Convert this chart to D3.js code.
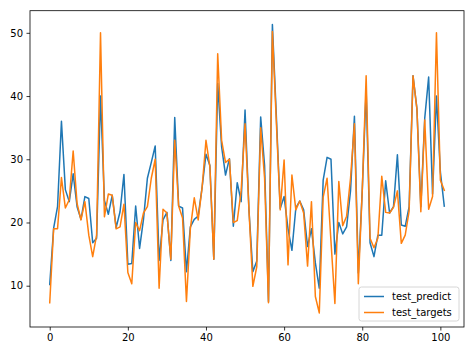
<!DOCTYPE html>
<html>
<head>
<meta charset="utf-8">
<script src="https://cdn.jsdelivr.net/npm/d3@7"></script>
<style>
  body { margin: 0; background: #fff; }
  svg { display: block; font-family: "DejaVu Sans", sans-serif; }
</style>
</head>
<body>
<svg id="chart" width="474" height="355"></svg>
<script>
const testPredict = [
  10.2, 19.1, 22.5, 36.0, 25.2, 23.3, 27.7, 22.5, 20.5, 24.1,
  23.8, 16.8, 17.5, 40.0, 23.5, 21.3, 24.3, 19.2, 21.7, 27.6,
  13.4, 13.5, 22.6, 15.9, 20.5, 27.0, 29.5, 32.1, 14.0, 20.4,
  21.6, 14.0, 36.6, 22.6, 22.3, 12.2, 19.3, 20.5, 21.0, 25.5,
  30.8, 29.0, 14.2, 42.0, 32.0, 27.5, 30.1, 19.4, 26.3, 23.3,
  37.8, 22.0, 12.2, 13.9, 36.7, 29.0, 7.5, 51.3, 37.0, 22.2,
  24.1, 19.0, 15.6, 22.3, 23.4, 22.0, 16.2, 19.0, 13.6, 9.6,
  26.7, 30.3, 30.0, 15.0, 20.0, 18.2, 19.3, 25.0, 36.8, 12.0,
  25.0, 41.0, 16.8, 14.6, 18.0, 18.0, 26.6, 21.5, 22.5, 30.7,
  19.6, 19.4, 22.5, 43.2, 38.0, 22.5, 36.5, 43.0, 24.5, 40.0,
  28.0, 22.6
];
const testTargets = [
  7.3, 19.0, 19.0, 27.1, 22.3, 23.6, 31.3, 23.0, 20.4, 23.3,
  18.0, 14.6, 18.0, 50.0, 20.9, 24.5, 24.3, 19.0, 19.3, 22.9,
  12.1, 10.3, 20.0, 18.7, 21.5, 22.5, 27.0, 30.0, 9.6, 22.1,
  21.5, 14.2, 33.0, 22.6, 20.7, 7.5, 19.0, 23.9, 20.4, 25.5,
  33.0, 28.8, 14.2, 46.7, 33.0, 29.5, 30.0, 20.0, 20.3, 25.0,
  35.6, 22.0, 9.9, 13.0, 35.0, 27.0, 7.3, 50.2, 36.0, 22.0,
  29.9, 13.3, 27.5, 22.0, 23.4, 21.5, 13.1, 23.3, 8.3, 5.7,
  24.0, 27.0, 17.0, 7.2, 26.5, 19.5, 21.0, 27.0, 35.6, 10.3,
  25.0, 43.2, 17.5, 16.0, 17.5, 27.3, 21.6, 21.5, 22.4, 25.0,
  16.7, 18.0, 21.8, 43.2, 37.9, 21.7, 36.2, 22.1, 24.1, 50.0,
  26.7, 25.1
];
const xTicks = [0, 20, 40, 60, 80, 100];
const yTicks = [10, 20, 30, 40, 50];
const seriesNames = ["test_predict", "test_targets"];
const seriesColors = ["#1f77b4", "#ff7f0e"];

const svg = d3.select("#chart");
const L = 30, R = 464, T = 10.7, B = 327;

const x = d3.scaleLinear().domain([-5.05, 106.05]).range([L, R]);
const y = d3.scaleLinear().domain([3.47, 53.5]).range([B, T]);

// axes
const xAxis = svg.append("g").attr("transform", `translate(0,${B})`)
  .call(d3.axisBottom(x).tickValues(xTicks).tickSize(3.5).tickPadding(3.5).tickFormat(d3.format("d")));
const yAxis = svg.append("g").attr("transform", `translate(${L},0)`)
  .call(d3.axisLeft(y).tickValues(yTicks).tickSize(3.5).tickPadding(3.5).tickFormat(d3.format("d")));
[xAxis, yAxis].forEach(a => {
  a.select(".domain").remove();
  a.selectAll("line").attr("stroke", "#000").attr("stroke-width", 0.8);
  a.selectAll("text").attr("font-size", 10).attr("fill", "#000")
    .attr("font-family", "DejaVu Sans, sans-serif");
});

// lines
const data = [testPredict, testTargets];
const line = d3.line().x((d, i) => x(i)).y(d => y(d));
svg.append("g")
  .selectAll("path").data(data).join("path")
  .attr("d", line)
  .attr("fill", "none")
  .attr("stroke", (d, i) => seriesColors[i])
  .attr("stroke-width", 1.5)
  .attr("stroke-linejoin", "round")
  .attr("stroke-linecap", "square");

// frame
svg.append("rect").attr("x", L).attr("y", T).attr("width", R - L).attr("height", B - T)
  .attr("fill", "none").attr("stroke", "#000").attr("stroke-width", 0.8);

// legend
const lg = svg.append("g").attr("transform", "translate(359,287)");
lg.append("rect").attr("width", 100).attr("height", 34).attr("rx", 2.5)
  .attr("fill", "#fff").attr("fill-opacity", 0.8)
  .attr("stroke", "#cccccc").attr("stroke-width", 0.8);
seriesNames.forEach((name, i) => {
  const yy = 9.5 + i * 16;
  lg.append("line").attr("x1", 5).attr("x2", 25).attr("y1", yy).attr("y2", yy)
    .attr("stroke", seriesColors[i]).attr("stroke-width", 1.5);
  lg.append("text").attr("x", 33).attr("y", yy).attr("dy", "0.35em")
    .attr("font-size", 10).attr("fill", "#000").text(name);
});
</script>
</body>
</html>
